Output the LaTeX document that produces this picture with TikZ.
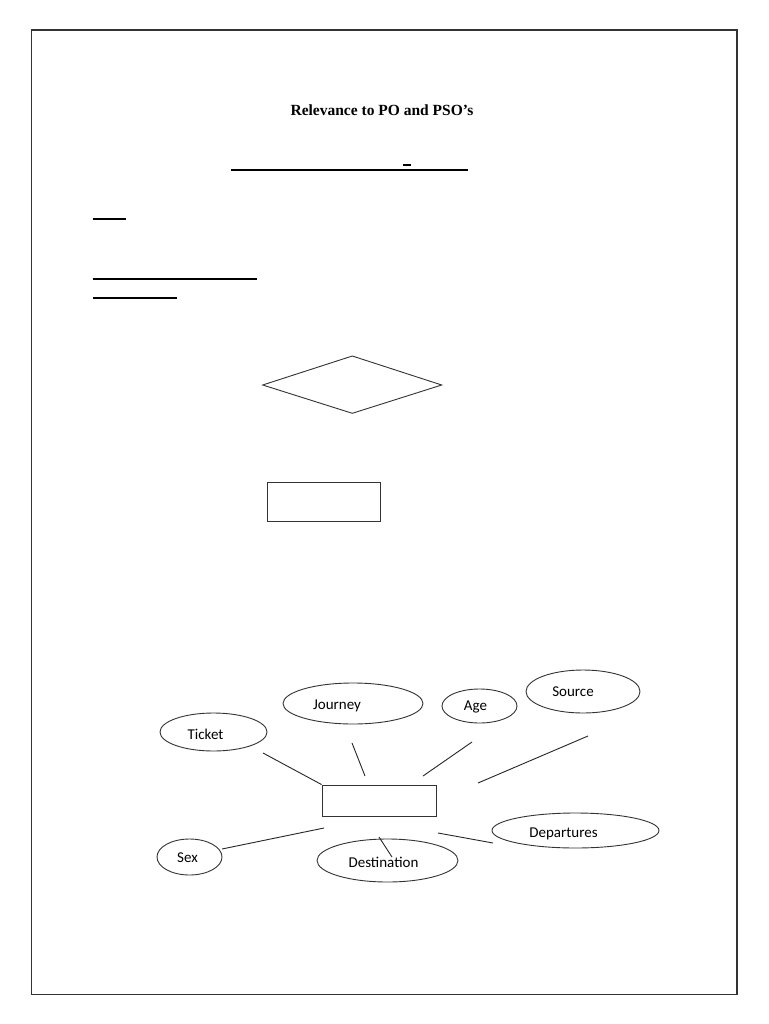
\documentclass[tikz,border=0pt]{standalone}
\usepackage{fontspec}
\setmainfont{Liberation Serif}
\newfontfamily\carl{Carlito}
\usetikzlibrary{shapes.geometric}
\tikzset{
  shp/.style={draw=black!80, line width=0.9pt},
  attr/.style={shp, ellipse, inner sep=0pt},
  lbl/.style={font=\carl\fontsize{15}{17}\selectfont},
  conn/.style={draw=black!85, line width=0.9pt},
  rule/.style={draw=black, line width=1.8pt},
}
\begin{document}
\begin{tikzpicture}[x=1pt,y=-1pt]
\useasboundingbox (0,0) rectangle (768,1024);
\fill[white] (0,0) rectangle (768,1024);
% page border
\draw[draw=black!80, line width=1.3pt] (31.5,30) rectangle (737,994.5);
% title
\node[font=\bfseries\fontsize{15.5}{18}\selectfont] (title) at (382,110) {Relevance to PO and PSO’s};
% rules
\draw[rule] (231,170) -- (468,170);
\draw[rule, line width=1.2pt] (403,165) -- (411,165);
\draw[rule] (92.7,219.3) -- (126,219.3);
\draw[rule] (92.7,278.7) -- (257.3,278.7);
\draw[rule] (92.7,297.7) -- (176.7,297.7);
% diamond and rectangle
\draw[shp] (262.7,385) -- (352.3,356) -- (441.7,385) -- (352.3,413.3) -- cycle;
\draw[shp] (267.7,482.7) rectangle (380,521);
% ER diagram
\node[shp, minimum width=114pt, minimum height=31pt, inner sep=0pt] (ent) at (379,800.5) {};
\node[attr, minimum width=107pt, minimum height=38pt, label={[lbl, shift={(-8pt,-2pt)}]center:Ticket}] (ticket) at (213.5,732) {};
\node[attr, minimum width=140pt, minimum height=41pt, label={[lbl, shift={(-16pt,-2.5pt)}]center:Journey}] (journey) at (353,703.5) {};
\node[attr, minimum width=75pt, minimum height=34pt, label={[lbl, shift={(-4pt,-1pt)}]center:Age}] (age) at (479.5,706) {};
\node[attr, minimum width=114pt, minimum height=43pt, label={[lbl, shift={(-10pt,-0.5pt)}]center:Source}] (source) at (583,691.5) {};
\node[attr, minimum width=167pt, minimum height=35pt, label={[lbl, shift={(-12pt,-3.5pt)}]center:Departures}] (dep) at (575.5,830.5) {};
\node[attr, minimum width=141pt, minimum height=43pt, label={[lbl, shift={(-4pt,-1.5pt)}]center:Destination}] (dest) at (387.5,860.5) {};
\node[attr, minimum width=65pt, minimum height=36pt, label={[lbl, shift={(-2pt,-1pt)}]center:Sex}] (sex) at (189.5,857) {};
% connector free ends
\coordinate (c1) at (263,753);
\coordinate (c2a) at (352,743);
\coordinate (c2b) at (365,776);
\coordinate (c3a) at (472,742);
\coordinate (c3b) at (423,776);
\coordinate (c4a) at (588,736);
\coordinate (c4b) at (478,783);
\coordinate (c5a) at (222,849);
\coordinate (c5b) at (324,828);
\coordinate (c6a) at (379,837);
\coordinate (c6b) at (392,857);
\coordinate (c7a) at (438,833);
\coordinate (c7b) at (493,843);
\draw[conn] (c1) -- (ent.north west);
\draw[conn] (c2a) -- (c2b);
\draw[conn] (c3a) -- (c3b);
\draw[conn] (c4a) -- (c4b);
\draw[conn] (c5a) -- (c5b);
\draw[conn] (c6a) -- (c6b);
\draw[conn] (c7a) -- (c7b);
\end{tikzpicture}
\end{document}
